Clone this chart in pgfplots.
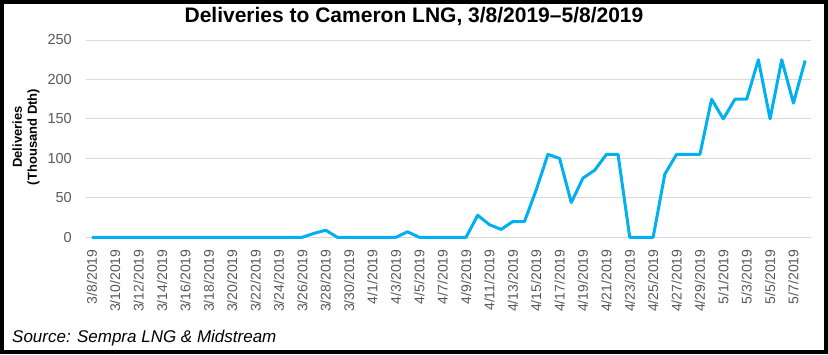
\documentclass[border=0pt]{standalone}
\usepackage{pgfplots}
\pgfplotsset{compat=1.18}
\usepackage{fontspec}
\setmainfont{Liberation Sans}
\definecolor{lineblue}{HTML}{00B0F0}
\definecolor{gridgray}{HTML}{D9D9D9}
\definecolor{ticktext}{HTML}{595959}
\pgfplotstableread{
idx val
0 0
1 0
2 0
3 0
4 0
5 0
6 0
7 0
8 0
9 0
10 0
11 0
12 0
13 0
14 0
15 0
16 0
17 0
18 0
19 5
20 9
21 0
22 0
23 0
24 0
25 0
26 0
27 7
28 0
29 0
30 0
31 0
32 0
33 28
34 16
35 10
36 20
37 20
38 60
39 105
40 100
41 44
42 75
43 85
44 105
45 105
46 0
47 0
48 0
49 80
50 105
51 105
52 105
53 175
54 150
55 175
56 175
57 225
58 150
59 225
60 170
61 224
}\deliveries
\begin{document}
\begin{tikzpicture}
\useasboundingbox (0,0) rectangle (828pt,-354pt);
\fill[white] (0,0) rectangle (828pt,-354pt);
\begin{axis}[
  at={(86pt,-237.3pt)}, anchor=south west,
  scale only axis, width=725pt, height=197.3pt,
  xmin=-0.5, xmax=61.5, ymin=0, ymax=250,
  ytick={0,50,...,250},
  xtick={0,2,...,60},
  xticklabels={3/8/2019,3/10/2019,3/12/2019,3/14/2019,3/16/2019,3/18/2019,3/20/2019,3/22/2019,3/24/2019,3/26/2019,3/28/2019,3/30/2019,4/1/2019,4/3/2019,4/5/2019,4/7/2019,4/9/2019,4/11/2019,4/13/2019,4/15/2019,4/17/2019,4/19/2019,4/21/2019,4/23/2019,4/25/2019,4/27/2019,4/29/2019,5/1/2019,5/3/2019,5/5/2019,5/7/2019},
  axis line style={draw=none},
  ymajorgrids, grid style={gridgray, line width=1pt},
  major tick length=0pt,
  /pgf/number format/assume math mode=true,
  xticklabel style={rotate=90, anchor=east, inner sep=0pt, font=\fontsize{14}{14}\selectfont, text=ticktext},
  xticklabel shift=12pt,
  yticklabel style={anchor=east, inner sep=0pt, font=\fontsize{14.5}{14}\selectfont, text=ticktext},
  yticklabel shift=14pt,
  clip=false,
]
\addplot[lineblue, line width=3pt, line join=round] table[x=idx, y=val] {\deliveries};
\end{axis}
\node[font=\bfseries\fontsize{21}{24}\selectfont] at (414pt,-17pt) {Deliveries to Cameron LNG, 3/8/2019\textendash5/8/2019};
\node[rotate=90, align=center, font=\bfseries\fontsize{13}{15}\selectfont] at (26pt,-137pt) {Deliveries\\(Thousand Dth)};
\node[anchor=west, inner sep=0pt, font=\itshape\fontsize{17}{20}\selectfont] at (12pt,-338pt) {Source: Sempra LNG \& Midstream};
\draw[line width=4pt] (2pt,-2pt) rectangle (826pt,-352pt);
\end{tikzpicture}
\end{document}
